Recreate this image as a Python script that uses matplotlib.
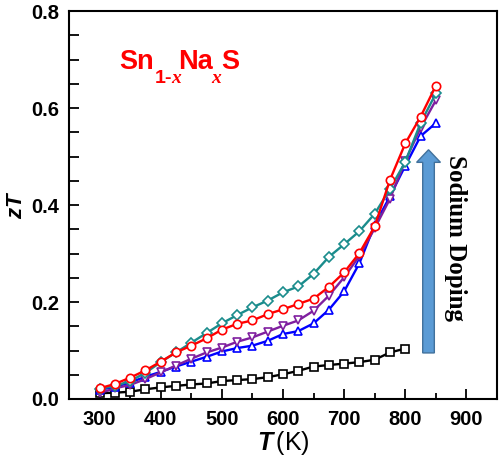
import matplotlib
matplotlib.use("Agg")
import matplotlib.pyplot as plt
from matplotlib.ticker import MultipleLocator

# temperatures (K), every 25 K
temp_short = [300, 325, 350, 375, 400, 425, 450, 475, 500, 525, 550,
              575, 600, 625, 650, 675, 700, 725, 750, 775, 800]
temp_long = temp_short + [825, 850]

# zT for each Na content
zt_x0 = [0.012, 0.013, 0.015, 0.020, 0.024, 0.027, 0.030, 0.032, 0.037, 0.039, 0.041,
         0.045, 0.051, 0.058, 0.067, 0.070, 0.073, 0.076, 0.081, 0.096, 0.104]
zt_teal = [0.021, 0.027, 0.037, 0.054, 0.076, 0.096, 0.116, 0.136, 0.156, 0.173, 0.189,
           0.203, 0.220, 0.232, 0.258, 0.293, 0.319, 0.346, 0.382, 0.433, 0.489, 0.569, 0.630]
zt_red = [0.022, 0.031, 0.044, 0.059, 0.077, 0.096, 0.110, 0.125, 0.143, 0.155, 0.162,
          0.175, 0.185, 0.196, 0.207, 0.231, 0.261, 0.301, 0.356, 0.452, 0.527, 0.582, 0.646]
zt_purple = [0.012, 0.022, 0.029, 0.041, 0.055, 0.069, 0.083, 0.096, 0.106, 0.118, 0.127,
             0.139, 0.151, 0.162, 0.182, 0.213, 0.251, 0.295, 0.352, 0.413, 0.491, 0.559, 0.616]
zt_blue = [0.019, 0.025, 0.034, 0.046, 0.056, 0.067, 0.077, 0.087, 0.098, 0.105, 0.110,
           0.120, 0.134, 0.140, 0.156, 0.184, 0.222, 0.280, 0.359, 0.418, 0.481, 0.542, 0.569]

x_ticks = [300, 400, 500, 600, 700, 800, 900]
y_ticks = [0.0, 0.2, 0.4, 0.6, 0.8]

plt.rcParams.update({"font.family": "Liberation Sans", "font.weight": "bold"})
plt.rcParams["mathtext.fontset"] = "custom"
plt.rcParams["mathtext.rm"] = "Liberation Sans:bold"
plt.rcParams["mathtext.bf"] = "Liberation Sans:bold"
plt.rcParams["mathtext.it"] = "Liberation Sans:bold:italic"
plt.rcParams["mathtext.sf"] = "Liberation Serif:italic"

fig = plt.figure(figsize=(5.0, 4.61), dpi=100)
ax = fig.add_axes([0.138, 0.1345, 0.856, 0.8415])

series = [
    (temp_short, zt_x0, "black", "s"),
    (temp_long, zt_blue, "#0000ff", "^"),
    (temp_long, zt_purple, "#7f1f9f", "v"),
    (temp_long, zt_teal, "#1a8c8c", "D"),
    (temp_long, zt_red, "#ff0000", "o"),
]
for t, zt, c, m in series:
    ms = 5 if m == "D" else 6
    ax.plot(t, zt, color=c, lw=1.7, marker=m, ms=ms, mfc="white", mec=c, mew=1.2)

ax.set_xlim(250, 950)
ax.set_ylim(0, 0.8)
ax.set_xticks(x_ticks, labels=[str(v) for v in x_ticks], fontweight="bold")
ax.set_yticks(y_ticks, labels=["%.1f" % v for v in y_ticks], fontweight="bold")
ax.xaxis.set_minor_locator(MultipleLocator(50))
ax.yaxis.set_minor_locator(MultipleLocator(0.05))
ax.tick_params(which="both", direction="in", width=1.3, labelsize=14.5, right=False, top=False)
ax.tick_params(which="major", length=7)
ax.tick_params(which="minor", length=4)
ax.tick_params(axis="y", which="minor", length=7)
ax.tick_params(axis="x", pad=8)
ax.tick_params(axis="y", pad=7)
for s in ax.spines.values():
    s.set_linewidth(1.5)

ax.set_ylabel(r"$zT$", fontsize=16, labelpad=3)
ax.set_xlabel(r"$T\,$(K)", fontsize=18, labelpad=0)

# formula label, built from pieces so the subscripts sit low like the original
red = "#ff0000"
ax.text(332, 0.681, "Sn", color=red, fontsize=19.5, ha="left", va="baseline")
ax.text(389, 0.652, r"$\mathrm{1\text{-}}\mathsf{x}$", color=red, fontsize=14,
        ha="left", va="baseline")
ax.text(428, 0.681, "Na", color=red, fontsize=19.5, ha="left", va="baseline")
ax.text(482, 0.652, r"$\mathsf{x}$", color=red, fontsize=14, ha="left", va="baseline")
ax.text(499, 0.681, "S", color=red, fontsize=19.5, ha="left", va="baseline")

ax.arrow(838, 0.095, 0, 0.419, width=19, head_width=39, head_length=0.026,
         length_includes_head=True, fc="#5b9bd5", ec="#41719c", lw=1)
ax.text(882, 0.333, "Sodium Doping", rotation=-90, ha="center", va="center",
        fontsize=18, fontweight="bold", family="Liberation Serif")

fig.savefig("out.png", dpi=100)
